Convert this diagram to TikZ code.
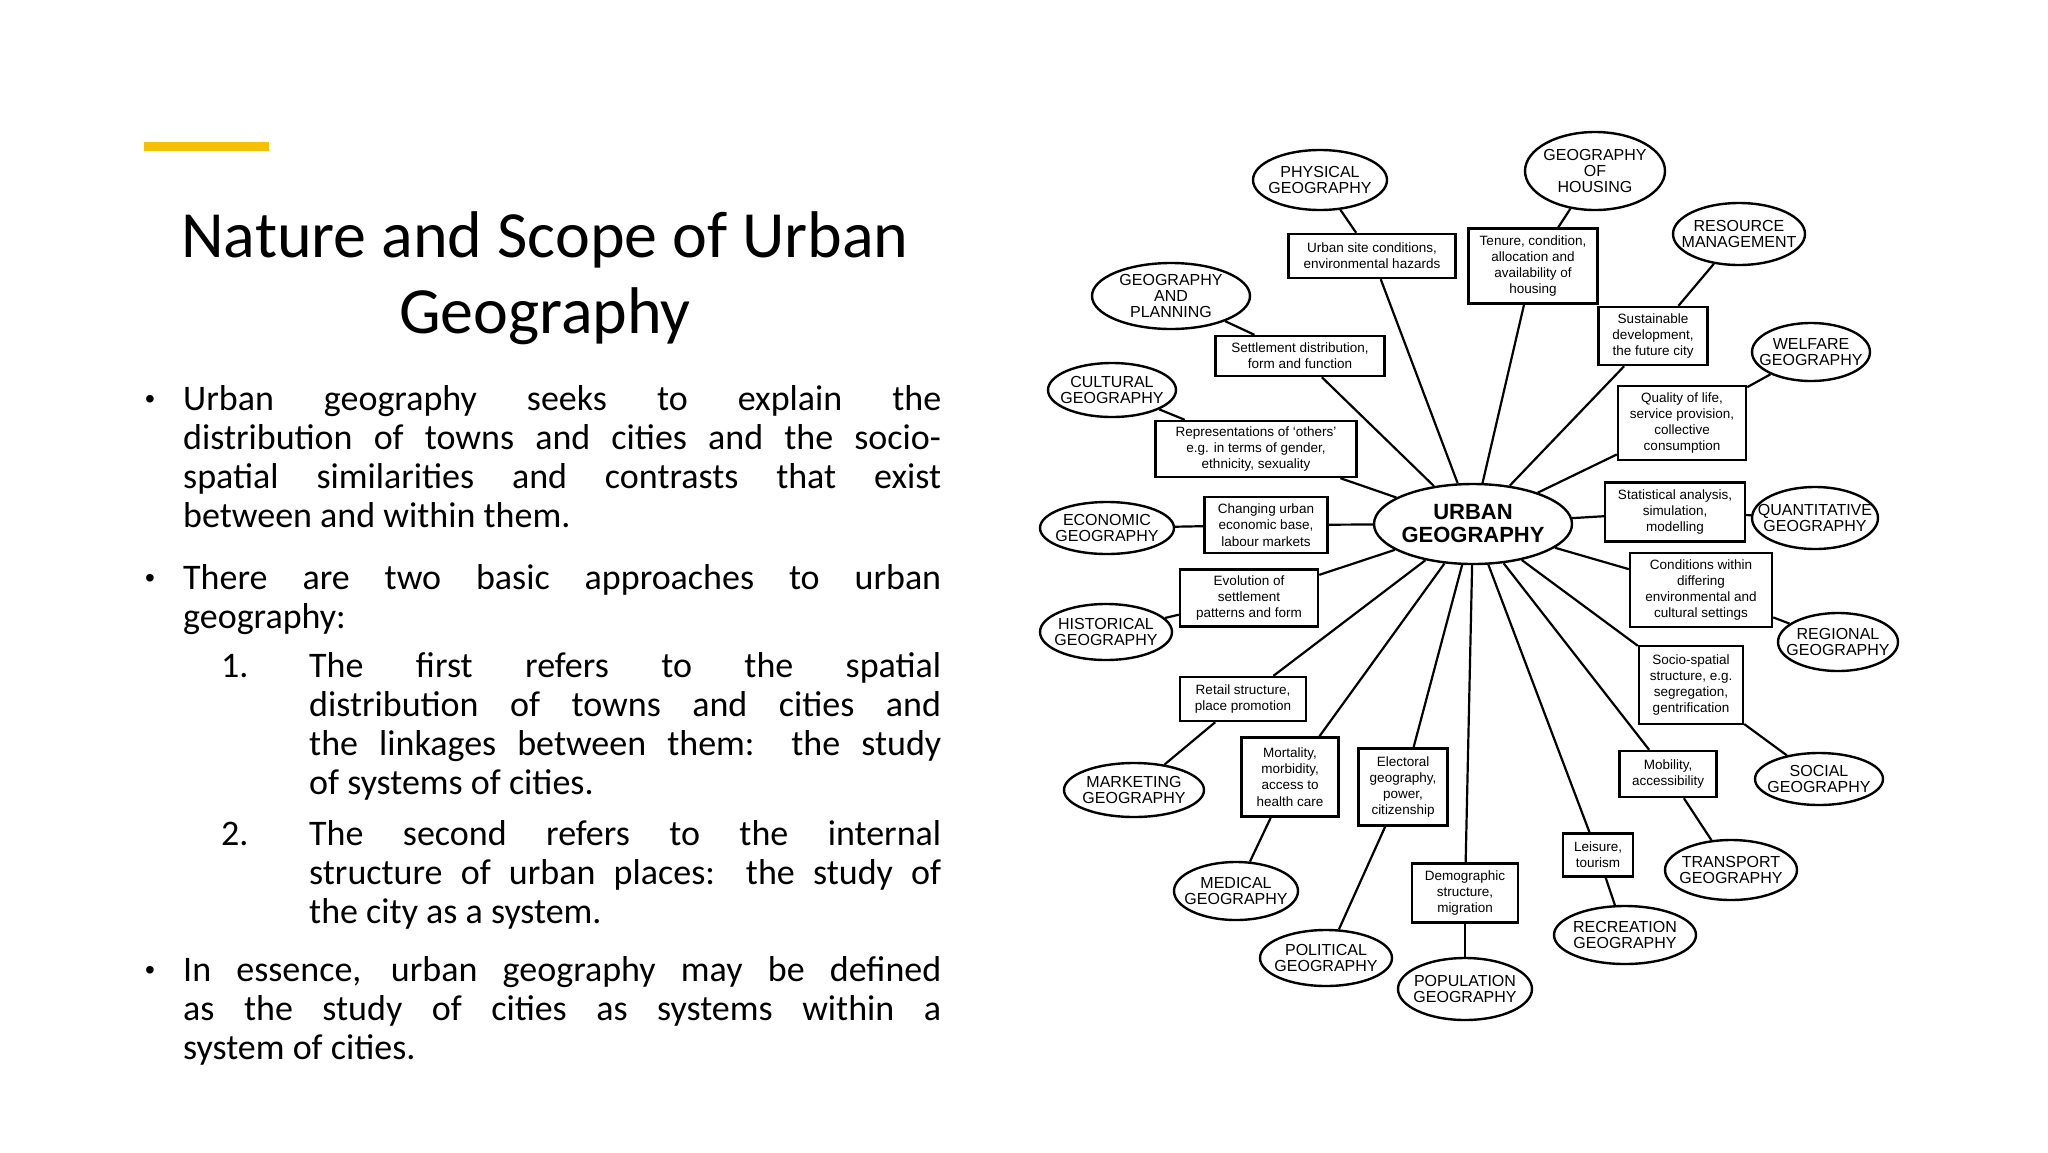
\documentclass[tikz,border=0pt]{standalone}
\usepackage{fontspec}
\setmainfont{Carlito}
\newfontfamily\dgf{Liberation Sans}
\usetikzlibrary{shapes.geometric}
\newcommand{\jl}[1]{\hbox to\hsize{#1}}
\definecolor{accent}{HTML}{F5C000}
\begin{document}
\begin{tikzpicture}[x=1pt,y=-1pt,
  ell/.style={ellipse, draw, line width=2.4pt, inner xsep=-14pt, inner ysep=-6pt, align=center,
    font=\dgf\fontsize{16}{16}\selectfont},
  bx/.style={rectangle, draw, line width=2.4pt, inner sep=0pt, align=center,
    font=\dgf\fontsize{13.5}{16.3}\selectfont},
  ln/.style={line width=2.2pt},
  dot/.style={font=\dgf\fontsize{28}{39}\selectfont}]
\useasboundingbox (0,0) rectangle (2048,1152);
\fill[white] (0,0) rectangle (2048,1152);
% yellow bar
\fill[accent] (144,142) rectangle (269,151);
% title
\node[font=\fontsize{66}{76}\selectfont, align=center, anchor=base, inner sep=0pt] (title) at (545,333) {Nature and Scope of Urban\\Geography};
% body
\begin{scope}[every node/.style={anchor=base west, inner sep=0pt, font=\fontsize{36}{39}\selectfont}]
\node[dot] (b1d) at (145,408) {•};
\node (b1) at (183,410) {\vtop{\hsize=758pt\baselineskip=39pt
 \jl{Urban geography seeks to explain the}
 \jl{distribution of towns and cities and the socio-}
 \jl{spatial similarities and contrasts that exist}
 \hbox{between and within them.}}};
\node[dot] (b2d) at (145,587) {•};
\node (b2) at (183,589) {\vtop{\hsize=758pt\baselineskip=39pt
 \jl{There are two basic approaches to urban}
 \hbox{geography:}}};
\node (n1) at (221,677) {1.};
\node (i1) at (309,677) {\vtop{\hsize=632pt\baselineskip=39pt
 \jl{The first refers to the spatial}
 \jl{distribution of towns and cities and}
 \jl{the linkages between them: the study}
 \hbox{of systems of cities.}}};
\node (n2) at (221,845) {2.};
\node (i2) at (309,845) {\vtop{\hsize=632pt\baselineskip=39pt
 \jl{The second refers to the internal}
 \jl{structure of urban places: the study of}
 \hbox{the city as a system.}}};
\node[dot] (b3d) at (145,979) {•};
\node (b3) at (183,981) {\vtop{\hsize=758pt\baselineskip=39pt
 \jl{In essence, urban geography may be defined}
 \jl{as the study of cities as systems within a}
 \hbox{system of cities.}}};
\end{scope}
% diagram
\node[ell, minimum width=198pt, minimum height=80pt, font=\dgf\bfseries\fontsize{22}{23}\selectfont] (ug) at (1473,524) {URBAN\\GEOGRAPHY};
% ellipses
\node[ell, minimum width=134pt, minimum height=60pt] (phys) at (1320,180) {PHYSICAL\\GEOGRAPHY};
\node[ell, minimum width=158pt, minimum height=66pt] (plan) at (1171,296) {GEOGRAPHY\\AND\\PLANNING};
\node[ell, minimum width=128pt, minimum height=54pt] (cult) at (1112,390) {CULTURAL\\GEOGRAPHY};
\node[ell, minimum width=134pt, minimum height=52pt] (econ) at (1107,528) {ECONOMIC\\GEOGRAPHY};
\node[ell, minimum width=132pt, minimum height=56pt] (hist) at (1106,632) {HISTORICAL\\GEOGRAPHY};
\node[ell, minimum width=140pt, minimum height=54pt] (mark) at (1134,790) {MARKETING\\GEOGRAPHY};
\node[ell, minimum width=124pt, minimum height=58pt] (med) at (1236,891) {MEDICAL\\GEOGRAPHY};
\node[ell, minimum width=132pt, minimum height=56pt] (pol) at (1326,958) {POLITICAL\\GEOGRAPHY};
\node[ell, minimum width=134pt, minimum height=62pt] (pop) at (1465,989) {POPULATION\\GEOGRAPHY};
\node[ell, minimum width=142pt, minimum height=58pt] (rec) at (1625,935) {RECREATION\\GEOGRAPHY};
\node[ell, minimum width=132pt, minimum height=60pt] (tran) at (1731,870) {TRANSPORT\\GEOGRAPHY};
\node[ell, minimum width=128pt, minimum height=52pt] (soc) at (1819,779) {SOCIAL\\GEOGRAPHY};
\node[ell, minimum width=120pt, minimum height=58pt] (reg) at (1838,642) {REGIONAL\\GEOGRAPHY};
\node[ell, minimum width=126pt, minimum height=62pt] (quan) at (1815,518) {QUANTITATIVE\\GEOGRAPHY};
\node[ell, minimum width=118pt, minimum height=58pt] (welf) at (1811,352) {WELFARE\\GEOGRAPHY};
\node[ell, minimum width=132pt, minimum height=62pt] (res) at (1739,234) {RESOURCE\\MANAGEMENT};
\node[ell, minimum width=140pt, minimum height=78pt] (hous) at (1595,171) {GEOGRAPHY\\OF\\HOUSING};
% boxes
\node[bx, minimum width=167pt, minimum height=44pt] (site) at (1372,256) {Urban site conditions,\\environmental hazards};
\node[bx, minimum width=169pt, minimum height=40pt] (sett) at (1300,356) {Settlement distribution,\\form and function};
\node[bx, minimum width=201pt, minimum height=56pt] (repr) at (1256,449) {Representations of ‘others’\\e.g. in terms of gender,\\ethnicity, sexuality};
\node[bx, minimum width=123pt, minimum height=56pt] (chg) at (1266,525) {Changing urban\\economic base,\\labour markets};
\node[bx, minimum width=138pt, minimum height=57pt] (evo) at (1249,598) {Evolution of\\settlement\\patterns and form};
\node[bx, minimum width=126pt, minimum height=44pt] (ret) at (1243,699) {Retail structure,\\place promotion};
\node[bx, minimum width=97pt, minimum height=79pt] (mort) at (1290,777) {Mortality,\\morbidity,\\access to\\health care};
\node[bx, minimum width=89pt, minimum height=77pt] (elec) at (1403,787) {Electoral\\geography,\\power,\\citizenship};
\node[bx, minimum width=106pt, minimum height=59pt] (demo) at (1465,893) {Demographic\\structure,\\migration};
\node[bx, minimum width=70pt, minimum height=43pt] (leis) at (1598,855) {Leisure,\\tourism};
\node[bx, minimum width=97pt, minimum height=46pt] (mob) at (1668,774) {Mobility,\\accessibility};
\node[bx, minimum width=104pt, minimum height=78pt] (socs) at (1691,685) {Socio-spatial\\structure, e.g.\\segregation,\\gentrification};
\node[bx, minimum width=142pt, minimum height=74pt] (cond) at (1701,590) {Conditions within\\differing\\environmental and\\cultural settings};
\node[bx, minimum width=140pt, minimum height=59pt] (stat) at (1675,512) {Statistical analysis,\\simulation,\\modelling};
\node[bx, minimum width=128pt, minimum height=74pt] (qual) at (1682,423) {Quality of life,\\service provision,\\collective\\consumption};
\node[bx, minimum width=109pt, minimum height=58pt] (sust) at (1653,336) {Sustainable\\development,\\the future city};
\node[bx, minimum width=129pt, minimum height=75pt] (ten) at (1533,266) {Tenure, condition,\\allocation and\\availability of\\housing};
% connectors
\foreach \b/\e in {site/phys, sett/plan, repr/cult, chg/econ, evo/hist, ret/mark, mort/med, elec/pol, demo/pop, leis/rec, mob/tran, socs/soc, cond/reg, stat/quan, qual/welf, sust/res, ten/hous}{
  \draw[ln] (ug) -- (\b);
  \draw[ln] (\b) -- (\e);
}
\end{tikzpicture}
\end{document}
